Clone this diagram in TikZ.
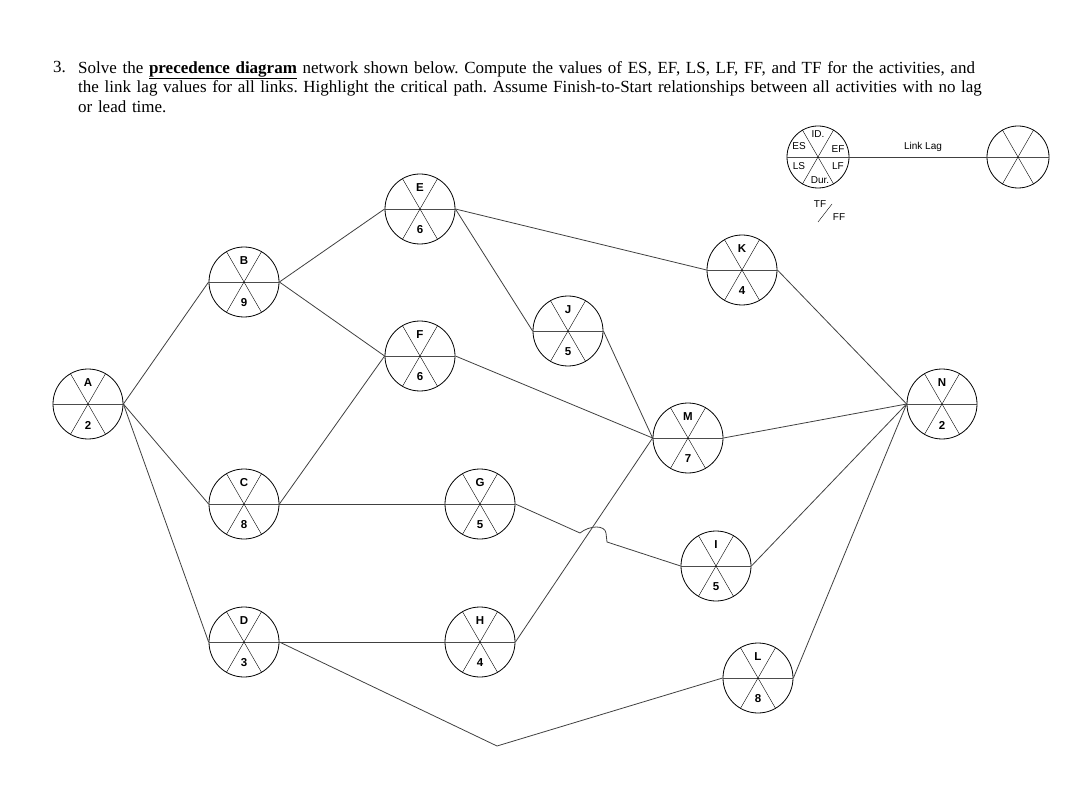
\documentclass[tikz,border=0pt]{standalone}
\usepackage{fontspec}
\setmainfont{Liberation Serif}
\newfontfamily\lblfont{Liberation Sans}
\usetikzlibrary{positioning,calc}
\newcommand\actnode[5][35pt]{%
  \node[act,minimum size=2*#1] (#2) at #3 {};
  \draw[gray!60!black] (#2.west) -- (#2.east);
  \draw (#2.60) -- (#2.240);
  \draw (#2.120) -- (#2.300);
  \node[lbl] at ($(#2.center)+(0,-21)$) {#4};
  \node[lbl] at ($(#2.center)+(0,21)$) {#5};
}
\frenchspacing
\begin{document}
\begin{tikzpicture}[x=1pt,y=-1pt,
  act/.style={circle,draw,line width=0.8pt,inner sep=0pt},
  lbl/.style={font=\lblfont\bfseries\fontsize{11.5}{11.5}\selectfont,inner sep=0pt},
  leg/.style={font=\lblfont\fontsize{10}{10}\selectfont,inner sep=0pt},
  link/.style={draw=black!75,line width=0.8pt}]
\useasboundingbox (0,0) rectangle (1090,794);
% question text
\node[anchor=north west,inner sep=0pt,font=\fontsize{17}{19.5}\selectfont] (num) at (53,61) {3.};
\node[anchor=north west,inner sep=0pt,text width=905pt,align=left,
  font=\fontsize{17}{19.5}\selectfont] (question) at (78,61)
  {Solve the \textbf{\underline{precedence diagram}} network shown below. Compute the values of ES, EF, LS, LF, FF, and TF for the activities, and the link lag values for all links. Highlight the critical path. Assume Finish-to-Start relationships between all activities with no lag or lead time.};
% legend
\actnode[31pt]{legA}{(818,157)}{}{}
\actnode[31pt]{legB}{(1018,157)}{}{}
\node[leg] at (818,134) {ID.};
\node[leg] at (799,146) {ES};
\node[leg] at (838,149) {EF};
\node[leg] at (799,166) {LS};
\node[leg] at (838,166) {LF};
\node[leg] at (820,180) {Dur.};
\node[leg] at (923,147) {Link Lag};
\draw[link] (legA.east) -- (legB.west);
\node[leg] at (820,204) {TF};
\node[leg] at (839,217) {FF};
\draw (818,222) -- (832,204);
% activities
\actnode{A}{(88,404)}{A}{2}
\actnode{B}{(244,282)}{B}{9}
\actnode{C}{(244,504)}{C}{8}
\actnode{D}{(244,642)}{D}{3}
\actnode{E}{(420,209)}{E}{6}
\actnode{F}{(420,356)}{F}{6}
\actnode{G}{(480,504)}{G}{5}
\actnode{H}{(480,642)}{H}{4}
\actnode{J}{(568,331)}{J}{5}
\actnode{K}{(742,270)}{K}{4}
\actnode{M}{(688,438)}{M}{7}
\actnode{I}{(716,566)}{I}{5}
\actnode{L}{(758,678)}{L}{8}
\actnode{N}{(942,404)}{N}{2}
\coordinate (bend) at (497,746);
% links
\draw[link] (A.east) -- (B.west);
\draw[link] (A.east) -- (C.west);
\draw[link] (A.east) -- (D.west);
\draw[link] (B.east) -- (E.west);
\draw[link] (B.east) -- (F.west);
\draw[link] (C.east) -- (F.west);
\draw[link] (C.east) -- (G.west);
\draw[link] (D.east) -- (H.west);
\draw[link] (D.east) -- (bend) -- (L.west);
\draw[link] (E.east) -- (K.west);
\draw[link] (E.east) -- (J.west);
\draw[link] (F.east) -- (M.west);
\draw[link] (J.east) -- (M.west);
\draw[link] (H.east) -- (M.west);
\draw[link] (G.east) -- (580,533) .. controls (590,525) and (605,525) .. (606,533) -- (607,542) -- (I.west);
\draw[link] (K.east) -- (N.west);
\draw[link] (M.east) -- (N.west);
\draw[link] (I.east) -- (N.west);
\draw[link] (L.east) -- (N.west);
\end{tikzpicture}
\end{document}
